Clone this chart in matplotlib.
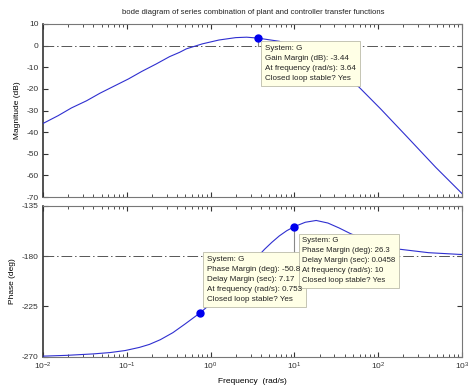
import numpy as np
import matplotlib
matplotlib.use('Agg')
import matplotlib.pyplot as plt

plt.rcParams['font.family'] = ['Liberation Sans', 'DejaVu Sans']
plt.rcParams['axes.unicode_minus'] = False

# Magnitude curve (log10 of frequency, dB)
mag_logf = [-2.0, -1.82, -1.66, -1.48, -1.32, -1.14, -0.98, -0.82, -0.65, -0.49,
            -0.37, -0.29, -0.10, 0.10, 0.30, 0.43, 0.56, 0.82, 1.0, 1.2, 1.4,
            1.6, 1.774, 2.03, 2.35, 2.687, 3.0]
mag_db = [-36.0, -32.4, -28.8, -25.5, -22.0, -18.5, -15.4, -11.9, -8.5, -5.1,
          -3.1, -1.5, 0.8, 2.6, 3.7, 3.9, 3.5, 2.0, -0.5, -4.0, -8.5,
          -13.5, -19.3, -29.3, -42.4, -56.3, -68.4]

# Phase curve (log10 of frequency, deg)
ph_logf = [-2.0, -1.72, -1.4, -1.2, -1.02, -0.85, -0.73, -0.6, -0.45, -0.3, -0.125,
           0.05, 0.2, 0.33, 0.45, 0.55, 0.643, 0.73, 0.82, 0.91, 1.0, 1.13, 1.26,
           1.4, 1.536, 1.67, 1.8, 2.0, 2.21, 2.6, 2.96, 3.0]
ph_deg = [-269.5, -268.8, -267.5, -266.3, -264.5, -261.7, -259.0, -254.8, -248.5, -240.5, -230.8,
          -219.5, -209.0, -198.5, -189.0, -181.5, -174.0, -167.8, -162.0, -157.3, -153.7, -149.8, -148.2,
          -150.5, -155.0, -160.0, -164.0, -169.5, -173.5, -177.0, -178.5, -178.6]

# Stability margins
gm_freq, gm_db = 3.64, 3.44
pm1_freq, pm1_deg = 0.753, -230.8
pm2_freq, pm2_deg = 10.0, -153.7

mag_ticks = [10, 0, -10, -20, -30, -40, -50, -60, -70]
ph_ticks = [-135, -180, -225, -270]

box_gm = "System: G\nGain Margin (dB): -3.44\nAt frequency (rad/s): 3.64\nClosed loop stable? Yes"
box_pm1 = ("System: G\nPhase Margin (deg): -50.8\nDelay Margin (sec): 7.17\n"
           "At frequency (rad/s): 0.753\nClosed loop stable? Yes")
box_pm2 = ("System: G\nPhase Margin (deg): 26.3\nDelay Margin (sec): 0.0458\n"
           "At frequency (rad/s): 10\nClosed loop stable? Yes")

W, H = 474, 391
fig = plt.figure(figsize=(W / 100, H / 100), dpi=100)
ax1 = fig.add_axes([43 / W, 1 - 197 / H, 419 / W, 173 / H])
ax2 = fig.add_axes([43 / W, 1 - 356.7 / H, 419 / W, 151 / H], sharex=ax1)

line_c = '#2f2fd0'
mag_f = 10 ** np.array(mag_logf)
ph_f = 10 ** np.array(ph_logf)

ax1.semilogx(mag_f, mag_db, color=line_c, lw=0.8, zorder=3)
ax1.axhline(0, color='#555555', lw=0.7, ls=(0, (11, 3, 1.5, 3)), zorder=2)
ax1.plot([gm_freq, gm_freq], [0, gm_db], color='#888888', lw=0.8, zorder=3)
ax1.plot(gm_freq, gm_db, 'o', color='#0000ee', ms=5, zorder=4)

ax2.semilogx(ph_f, ph_deg, color=line_c, lw=0.8, zorder=3)
ax2.axhline(-180, color='#555555', lw=0.7, ls=(0, (11, 3, 1.5, 3)), zorder=2)
ax2.plot([pm2_freq, pm2_freq], [-180, pm2_deg], color='#888888', lw=0.8, zorder=3)
ax2.plot([pm1_freq, pm2_freq], [pm1_deg, pm2_deg], 'o', color='#0000ee', ms=5, zorder=4)

ax1.set_xlim(1e-2, 1e3)
ax1.set_ylim(-70, 10)
ax1.set_yticks(mag_ticks)
ax2.set_ylim(-270, -135)
ax2.set_yticks(ph_ticks)

for ax in (ax1, ax2):
    ax.tick_params(which='both', direction='in', top=True, right=True,
                   labelsize=6, colors='#333333', pad=3)
    ax.tick_params(which='major', length=3.5)
    ax.tick_params(which='minor', length=2)
    for s in ax.spines.values():
        s.set_color('#777777')
        s.set_linewidth(0.8)
    ax.spines['left'].set_color('#333333')
    ax.spines['left'].set_linewidth(1.2)
plt.setp(ax1.get_xticklabels(), visible=False)

ax1.set_ylabel('Magnitude (dB)', fontsize=6, labelpad=4)
ax2.set_ylabel('Phase (deg)', fontsize=6, labelpad=4)
ax2.set_xlabel('Frequency  (rad/s)', fontsize=6, labelpad=4)
fig.text(253 / W, 1 - 12 / H,
         'bode diagram of series combination of plant and controller transfer functions',
         ha='center', va='center', fontsize=5.6, color='#222222')


def note(x, y, txt, fs):
    # box first (text hidden), then the text above every box
    kw = dict(ha='left', va='top', fontsize=fs, linespacing=1.6)
    fig.text(x / W, 1 - y / H, txt, color=(0, 0, 0, 0), zorder=10,
             bbox=dict(boxstyle='square,pad=0.45', fc='#ffffe6', ec='#bbbbaa', lw=0.6), **kw)
    fig.text(x / W, 1 - y / H, txt, color='#222222', zorder=20, **kw)


note(265, 45, box_gm, 5.8)
note(207, 256, box_pm1, 5.8)
note(302, 237, box_pm2, 5.6)

fig.savefig('out.png', dpi=100)
